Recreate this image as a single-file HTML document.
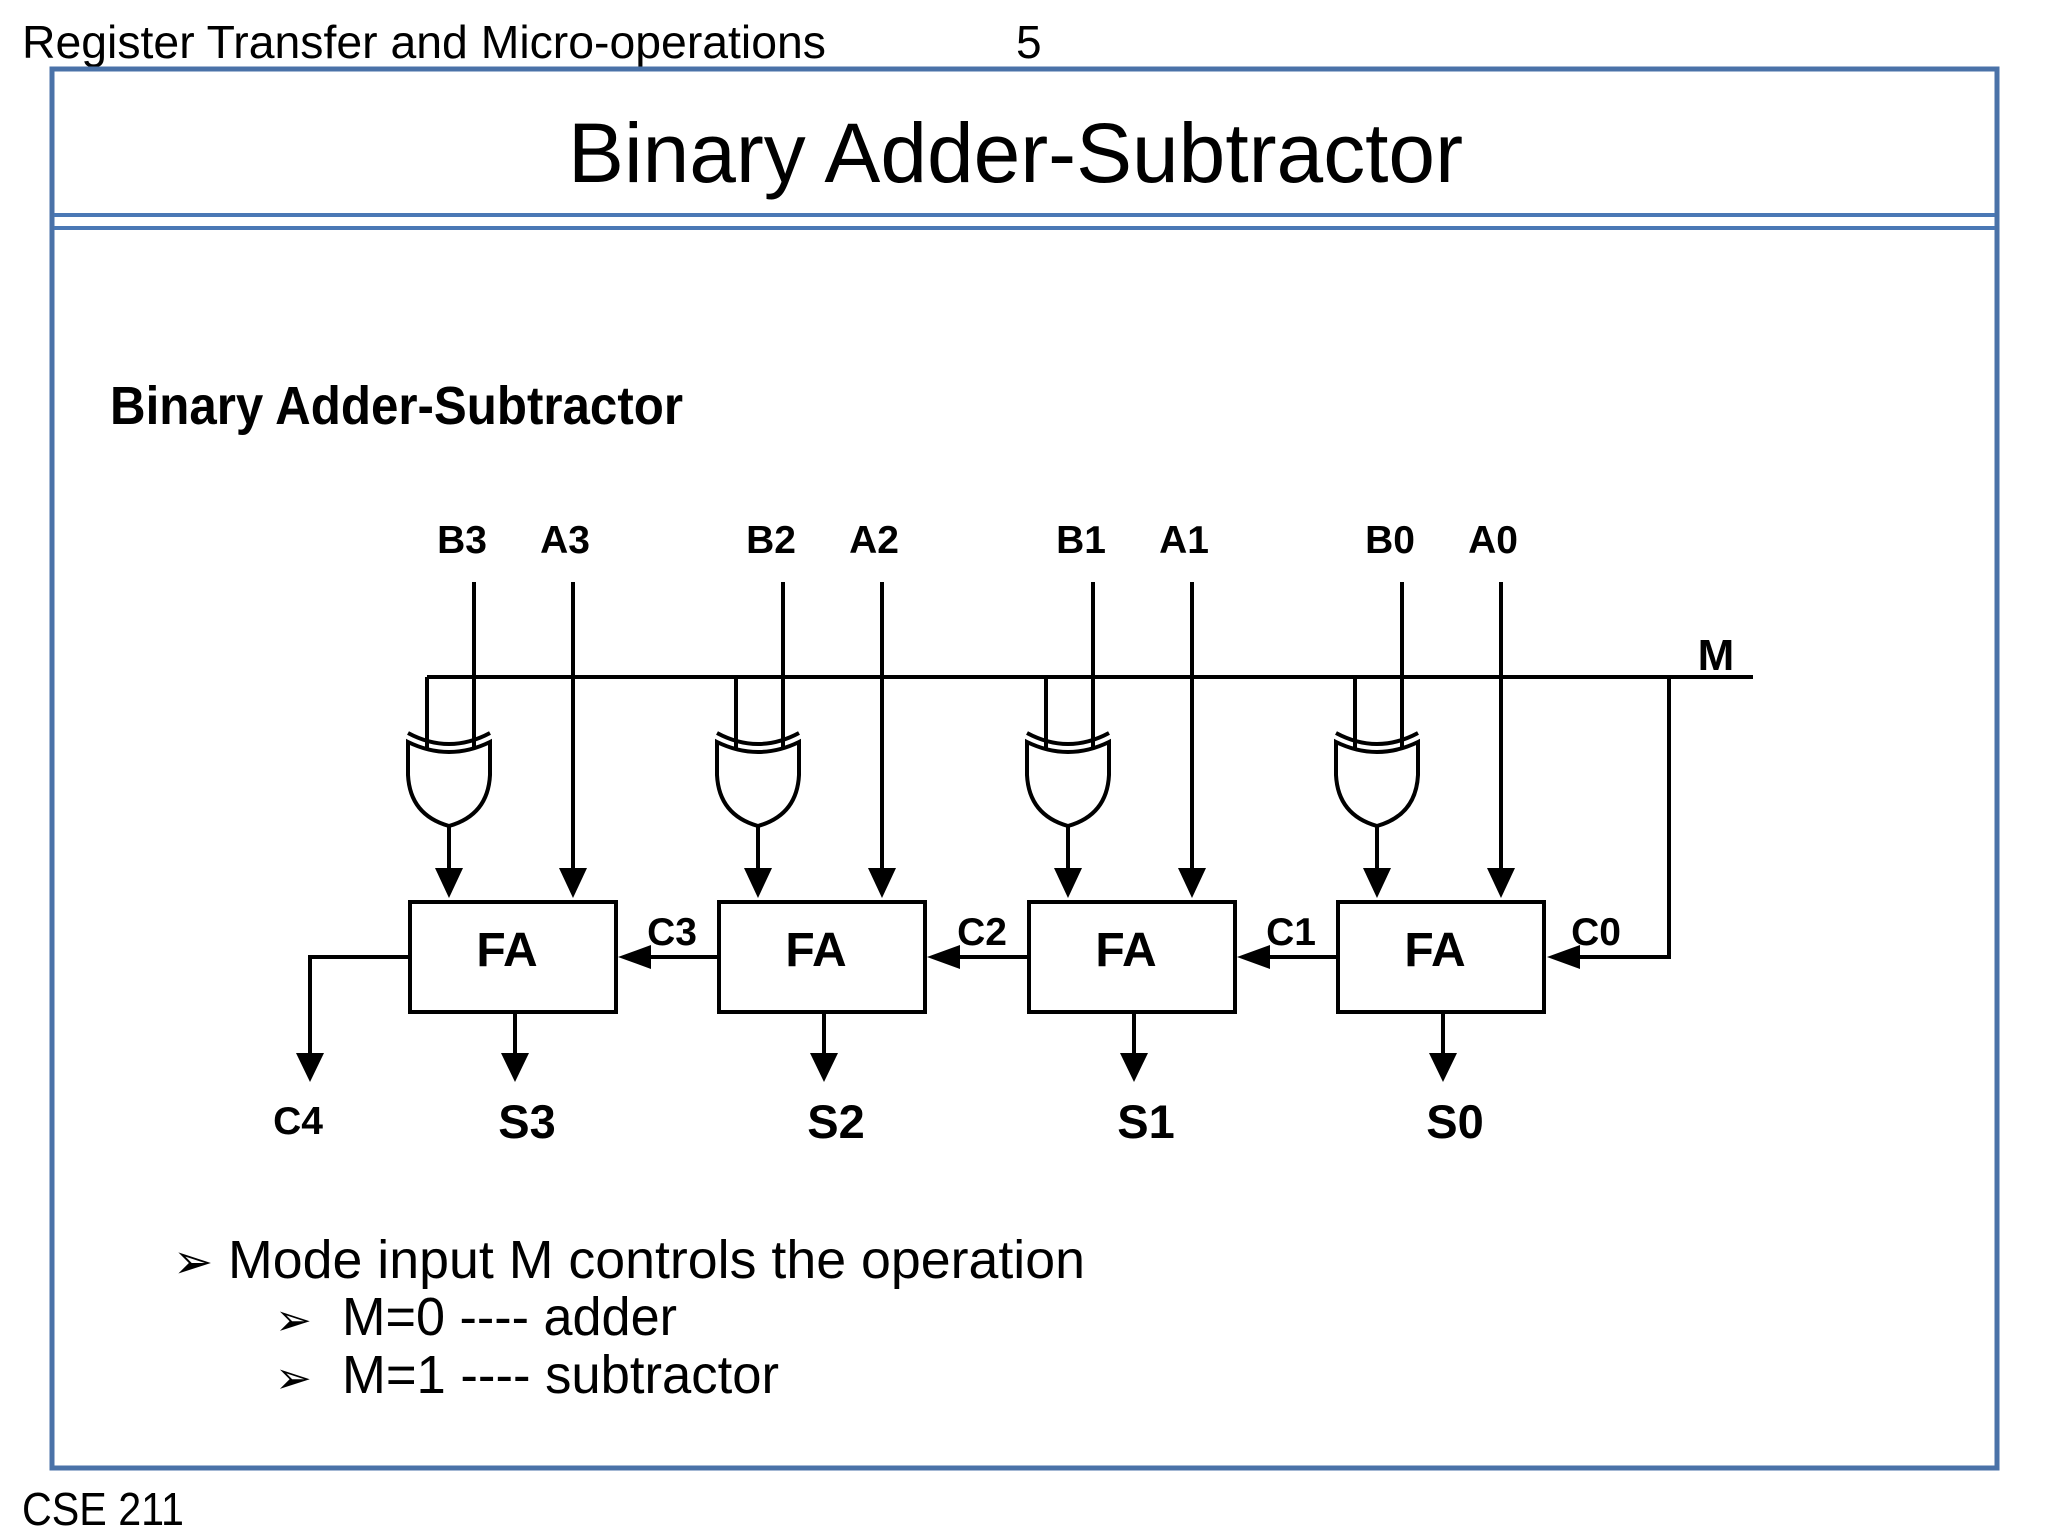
<!DOCTYPE html>
<html><head><meta charset="utf-8"><style>html,body{margin:0;padding:0;background:#fff}svg{display:block}</style></head>
<body>
<svg width="2048" height="1536" viewBox="0 0 2048 1536" xmlns="http://www.w3.org/2000/svg">
<rect width="2048" height="1536" fill="#fff"/>
<g font-family="Liberation Sans, sans-serif" fill="#000">
<text x="22" y="58" font-size="46" textLength="804" lengthAdjust="spacingAndGlyphs">Register Transfer and Micro-operations</text>
<text x="1016" y="58" font-size="46">5</text>
<text x="568" y="182" font-size="84" textLength="895" lengthAdjust="spacingAndGlyphs">Binary Adder-Subtractor</text>
<text x="110" y="424" font-size="54" font-weight="bold" textLength="573" lengthAdjust="spacingAndGlyphs">Binary Adder-Subtractor</text>
<text x="173" y="1278" font-size="48">➢</text>
<text x="228" y="1278" font-size="54" textLength="857" lengthAdjust="spacingAndGlyphs">Mode input M controls the operation</text>
<text x="275" y="1335" font-size="44">➢</text>
<text x="342" y="1335" font-size="54" textLength="335" lengthAdjust="spacingAndGlyphs">M=0 ---- adder</text>
<text x="275" y="1393" font-size="44">➢</text>
<text x="342" y="1393" font-size="54" textLength="437" lengthAdjust="spacingAndGlyphs">M=1 ---- subtractor</text>
<text x="22" y="1525" font-size="46" textLength="162" lengthAdjust="spacingAndGlyphs">CSE 211</text>
</g>
<g fill="none" stroke="#4a72a8" stroke-width="5">
<rect x="52" y="69" width="1945" height="1399"/>
</g>
<rect x="54" y="213" width="1941" height="4" fill="#4a78b5"/>
<rect x="54" y="226" width="1941" height="4" fill="#4a78b5"/>

<defs>
<g id="bit" stroke="#000" stroke-width="4" fill="none">
  <line x1="64" y1="582" x2="64" y2="748"/>
  <line x1="163" y1="582" x2="163" y2="868"/>
  <polygon points="149,868 177,868 163,898" fill="#000" stroke="none"/>
  <line x1="17" y1="677" x2="17" y2="750"/>
  <path d="M-2,733 Q39,755 80,733"/>
  <path d="M-2,742 Q39,762 80,742 L80,775 Q78,815 39,826 Q0,815 -2,775 Z"/>
  <line x1="39" y1="826" x2="39" y2="868"/>
  <polygon points="25,868 53,868 39,898" fill="#000" stroke="none"/>
  <rect x="0" y="902" width="206" height="110"/>
  <line x1="105" y1="1012" x2="105" y2="1053"/>
  <polygon points="91,1053 119,1053 105,1082" fill="#000" stroke="none"/>
</g>
</defs>
<use href="#bit" x="410"/>
<use href="#bit" x="719"/>
<use href="#bit" x="1029"/>
<use href="#bit" x="1338"/>

<g stroke="#000" stroke-width="4" fill="none">
  <line x1="427" y1="677" x2="1753" y2="677"/>
  <polyline points="1669,677 1669,957 1580,957"/>
  <line x1="719" y1="957" x2="650" y2="957"/>
  <line x1="1029" y1="957" x2="960" y2="957"/>
  <line x1="1338" y1="957" x2="1270" y2="957"/>
  <polyline points="410,957 310,957 310,1053"/>
</g>
<g fill="#000">
  <polygon points="618,957 651,945 651,969"/>
  <polygon points="927,957 960,945 960,969"/>
  <polygon points="1237,957 1270,945 1270,969"/>
  <polygon points="1547,957 1580,945 1580,969"/>
  <polygon points="296,1053 324,1053 310,1082"/>
</g>

<g font-family="Liberation Sans, sans-serif" font-weight="bold" fill="#000" text-anchor="middle">
  <g font-size="39">
    <text x="462" y="553">B3</text><text x="565" y="553">A3</text>
    <text x="771" y="553">B2</text><text x="874" y="553">A2</text>
    <text x="1081" y="553">B1</text><text x="1184" y="553">A1</text>
    <text x="1390" y="553">B0</text><text x="1493" y="553">A0</text>
    <text x="672" y="945">C3</text>
    <text x="982" y="945">C2</text>
    <text x="1291" y="945">C1</text>
    <text x="1596" y="945">C0</text>
    <text x="298" y="1134">C4</text>
  </g>
  <text x="1716" y="670" font-size="44">M</text>
  <g font-size="48">
    <text x="507" y="966">FA</text><text x="816" y="966">FA</text>
    <text x="1126" y="966">FA</text><text x="1435" y="966">FA</text>
  </g>
  <g font-size="47">
    <text x="527" y="1138">S3</text><text x="836" y="1138">S2</text>
    <text x="1146" y="1138">S1</text><text x="1455" y="1138">S0</text>
  </g>
</g>
</svg>
</body></html>
